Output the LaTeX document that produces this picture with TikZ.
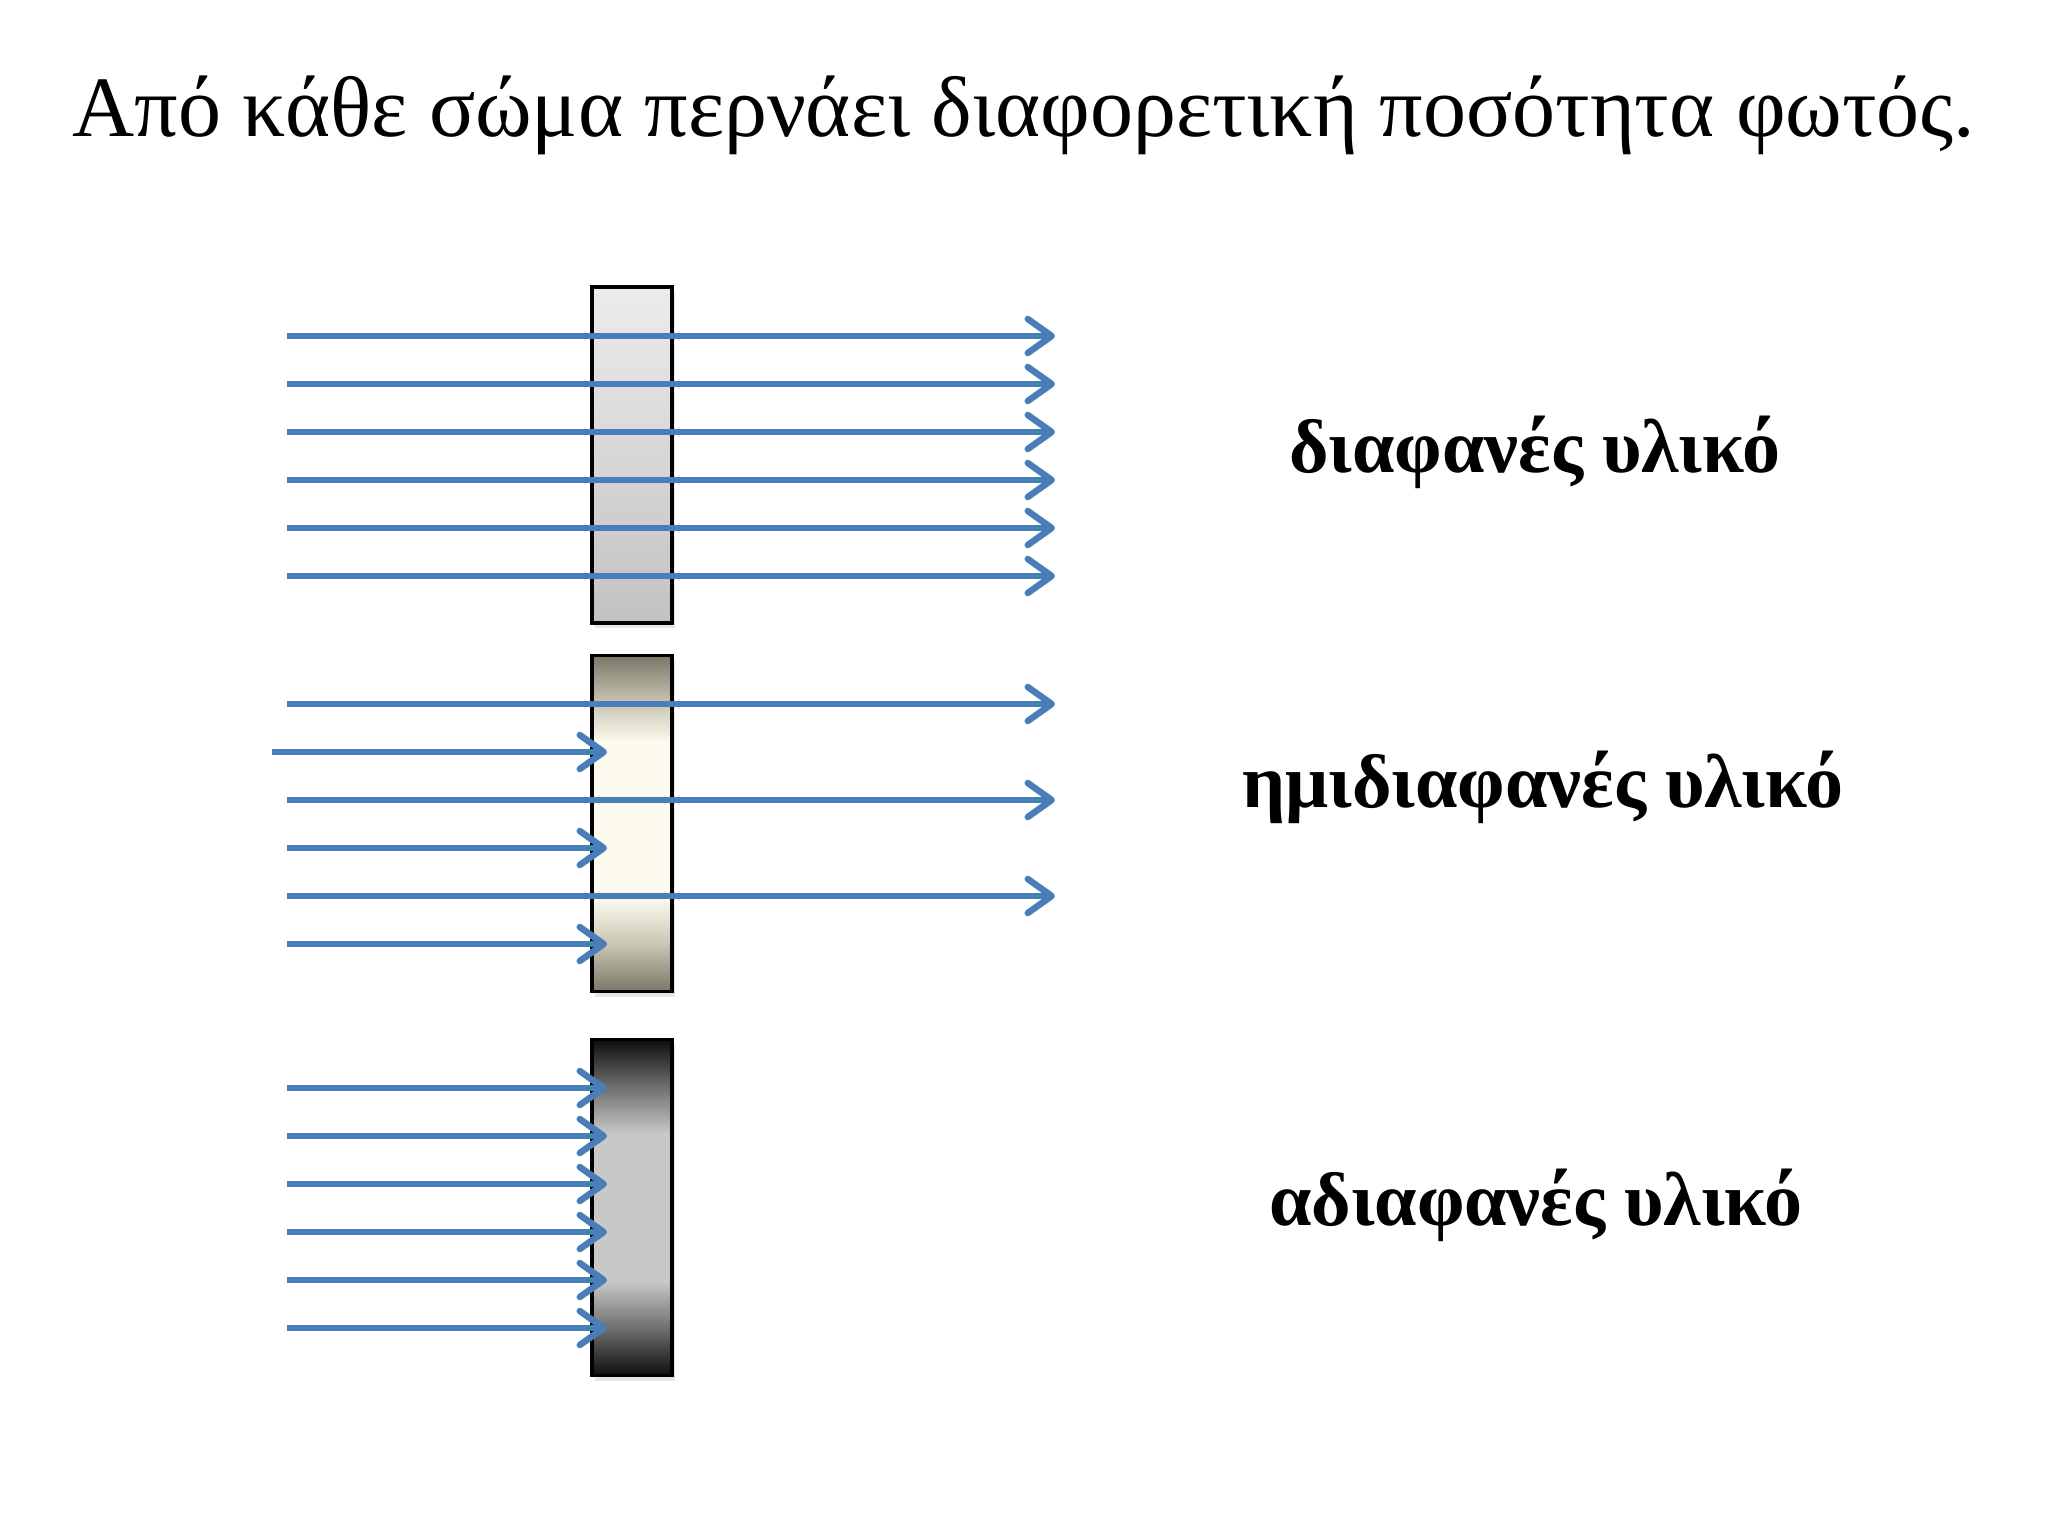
\documentclass[tikz,border=0pt]{standalone}
\usepackage{fontspec}
\setmainfont{Liberation Serif}
\usetikzlibrary{arrows.meta,shadows}

\definecolor{raycol}{RGB}{74,126,187}
\definecolor{cleartop}{RGB}{236,236,236}
\definecolor{clearbot}{RGB}{194,194,194}
\definecolor{semidark}{RGB}{122,119,104}
\definecolor{semimid}{RGB}{200,197,180}
\definecolor{semilight}{RGB}{253,251,238}
\definecolor{opaqdark}{RGB}{14,14,14}
\definecolor{opaqmid}{RGB}{110,110,110}
\definecolor{opaqlight}{RGB}{200,200,200}

\pgfdeclareverticalshading{clearshade}{100bp}{color(0bp)=(clearbot); color(25bp)=(clearbot); color(75bp)=(cleartop); color(100bp)=(cleartop)}
\pgfdeclareverticalshading{semishade}{100bp}{color(0bp)=(semidark); color(25bp)=(semidark); color(32bp)=(semimid); color(39bp)=(semilight); color(62bp)=(semilight); color(68bp)=(semimid); color(75bp)=(semidark); color(100bp)=(semidark)}
\pgfdeclareverticalshading{opaqshade}{100bp}{color(0bp)=(opaqdark); color(25bp)=(opaqdark); color(32bp)=(opaqmid); color(39bp)=(opaqlight); color(61bp)=(opaqlight); color(68bp)=(opaqmid); color(75bp)=(opaqdark); color(100bp)=(opaqdark)}

\tikzset{
    slab/.style={draw=black, line width=3.2bp, minimum width=80bp, minimum height=336bp, inner sep=0pt,
        drop shadow={shadow xshift=3bp, shadow yshift=-5bp, opacity=0.2}},
    ray/.style={draw=raycol, line width=6.5bp, -{Straight Barb[length=24bp,width=34bp,round]}},
    kind/.style={font=\bfseries\fontsize{76bp}{84bp}\selectfont},
}

\begin{document}
\begin{tikzpicture}[x=1bp,y=-1bp]
    \useasboundingbox (0,0) rectangle (2048,1536);
    \node[font=\fontsize{86bp}{100bp}\selectfont] (title) at (1024,115) {Από κάθε σώμα περνάει διαφορετική ποσότητα φωτός.};

    \node[slab, shading=clearshade] (clear) at (632,455) {};
    \node[slab, shading=semishade] (semi) at (632,823.5) {};
    \node[slab, shading=opaqshade] (opaq) at (632,1207.5) {};

    \foreach \y [count=\i] in {336,384,432,480,528,576} {
        \coordinate (cs\i) at (287,\y);
        \coordinate (ce\i) at (1055,\y);
        \draw[ray] (cs\i) -- (ce\i);
    }
    \foreach \y/\x/\e [count=\i] in {704/287/1055, 752/272/607, 800/287/1055, 848/287/607, 896/287/1055, 944/287/607} {
        \coordinate (ss\i) at (\x,\y);
        \coordinate (se\i) at (\e,\y);
        \draw[ray] (ss\i) -- (se\i);
    }
    \foreach \y [count=\i] in {1088,1136,1184,1232,1280,1328} {
        \coordinate (os\i) at (287,\y);
        \coordinate (oe\i) at (607,\y);
        \draw[ray] (os\i) -- (oe\i);
    }

    \node[kind] (clearlbl) at (1535,452) {διαφανές υλικό};
    \node[kind] (semilbl) at (1543,787) {ημιδιαφανές υλικό};
    \node[kind] (opaqlbl) at (1536,1205) {αδιαφανές υλικό};
\end{tikzpicture}
\end{document}
